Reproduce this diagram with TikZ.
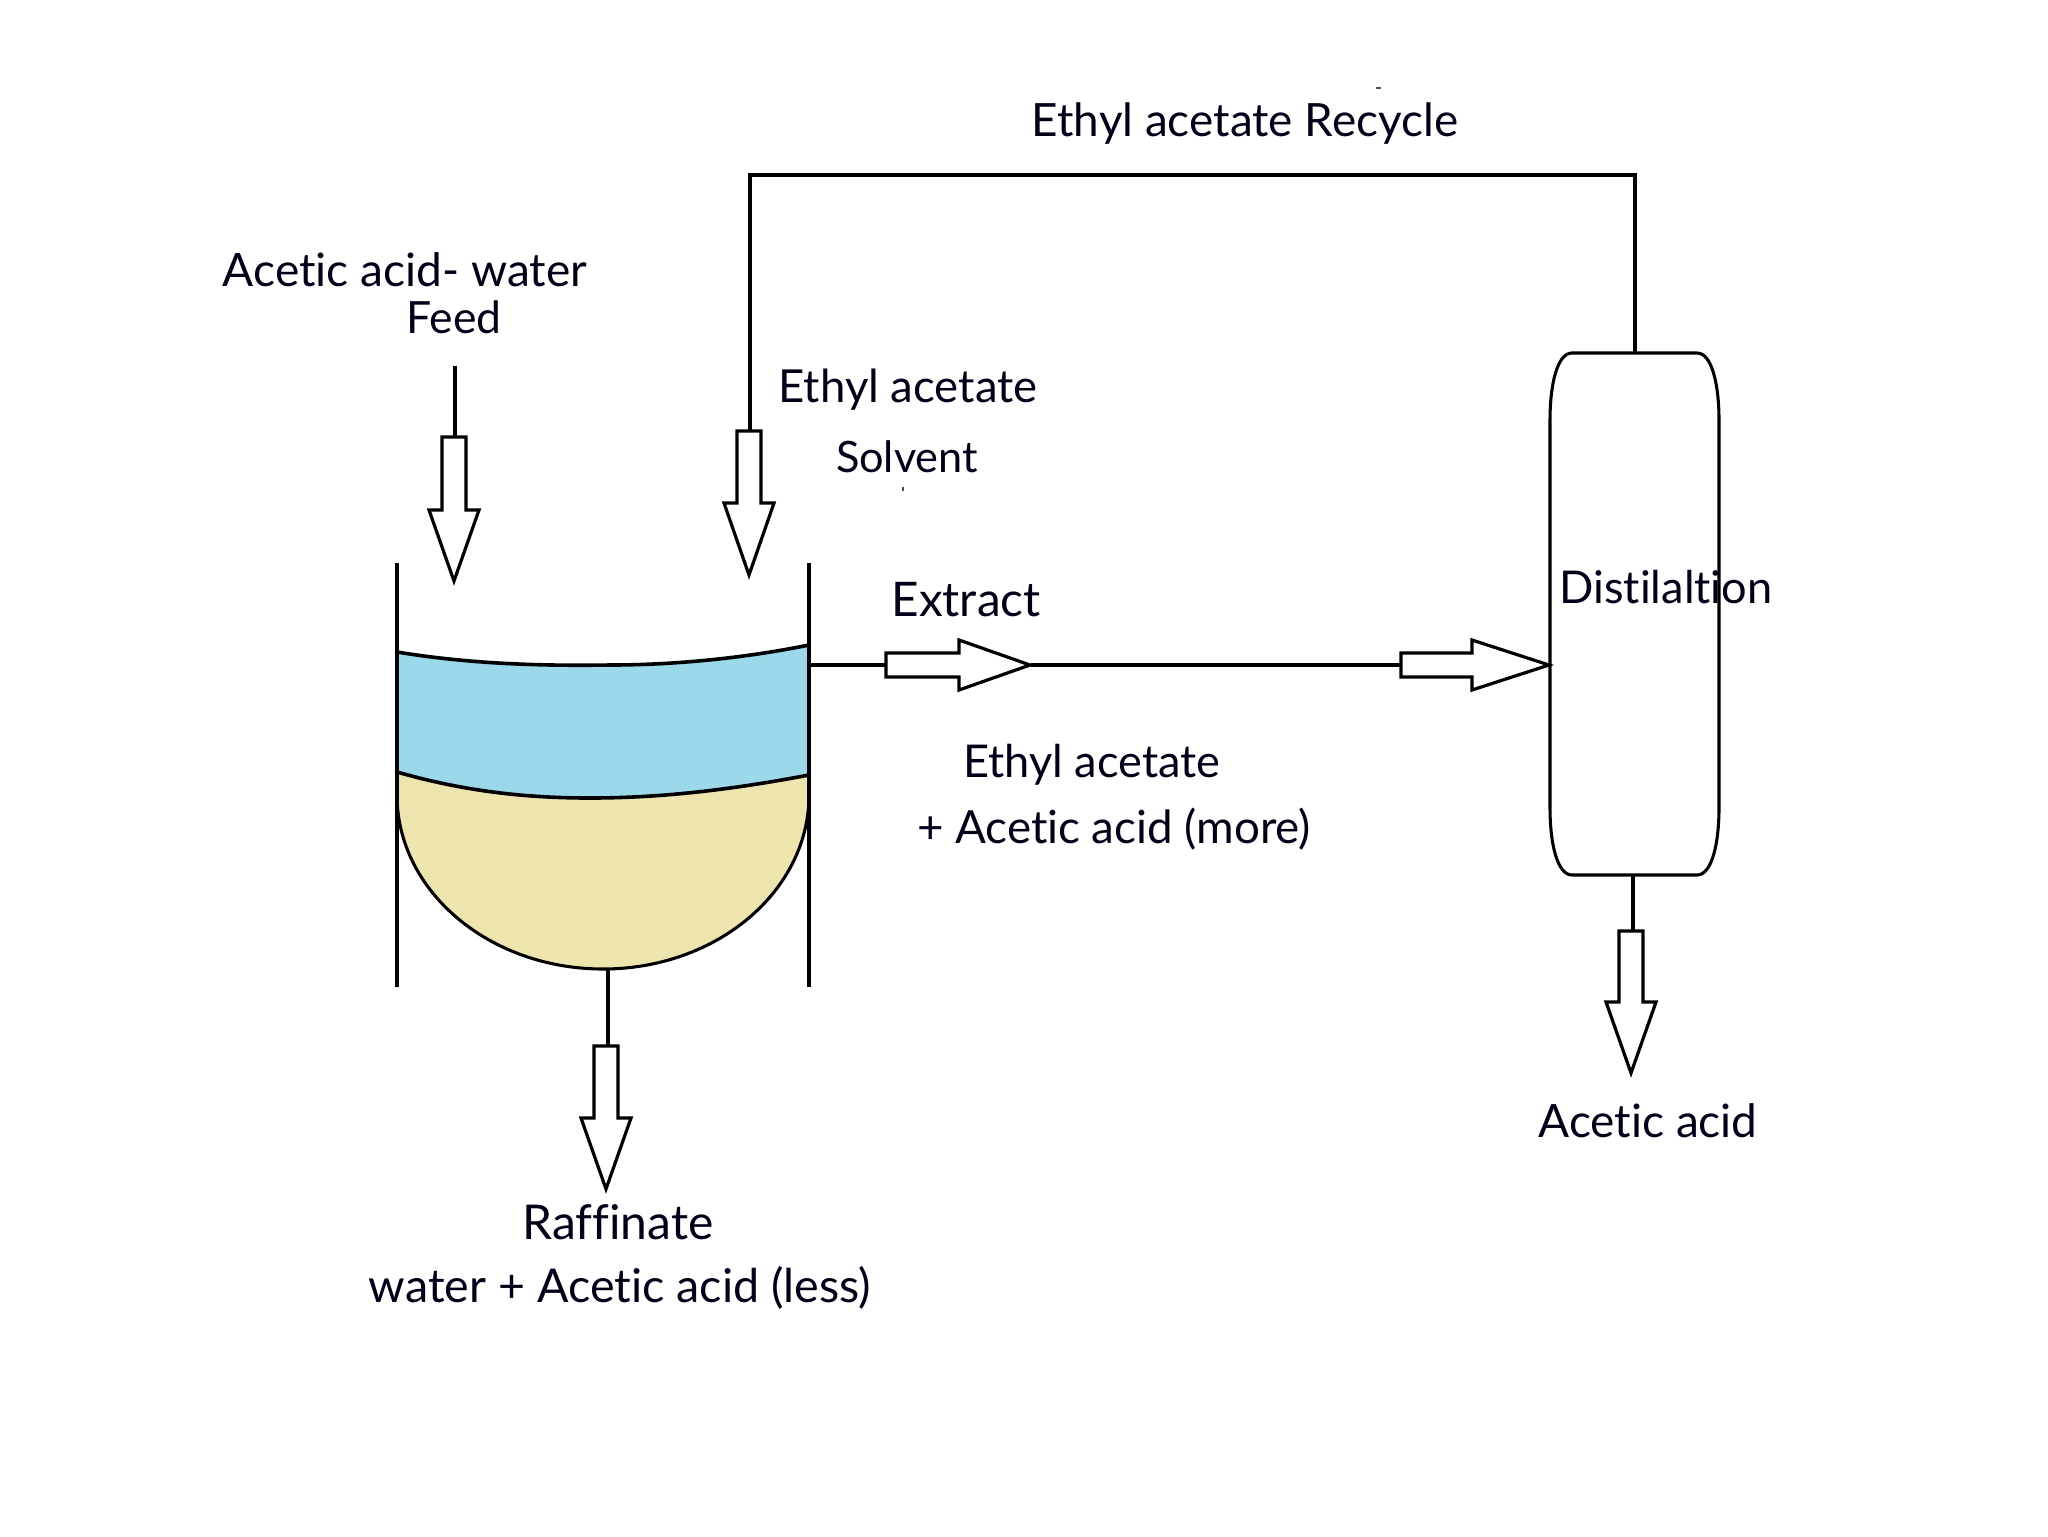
\documentclass[tikz,border=0pt]{standalone}
\usepackage{fontspec}
\setmainfont[Ligatures=CommonOff]{Lato}
\definecolor{layerblue}{HTML}{9AD8EA}
\definecolor{layercream}{HTML}{EEE4AE}
\tikzset{
  pipe/.style={line width=1.35pt,black,line cap=butt},
  wall/.style={line width=1.15pt,black},
  blockarrow/.style={line width=1.2pt,black,fill=white,line join=miter},
  lbl/.style={inner sep=0pt,text=black!90!blue}
}
\newcommand{\arrowdown}[4]{% centre x, top, shoulder, tip
  \draw[blockarrow] (#1-12,#2) -- (#1+12,#2) -- (#1+12,#3) -- (#1+25,#3) -- (#1,#4) -- (#1-25,#3) -- (#1-12,#3) -- cycle;}
\newcommand{\arrowright}[4]{% centre y, left, shoulder, tip
  \draw[blockarrow] (#2,#1-12) -- (#3,#1-12) -- (#3,#1-25) -- (#4,#1) -- (#3,#1+25) -- (#3,#1+12) -- (#2,#1+12) -- cycle;}
\newcommand{\lab}[5]{\node[lbl] (#1) at (#2,#3) {\resizebox{#4\dimexpr0.375pt\relax}{!}{#5}};}
\begin{document}
\begin{tikzpicture}[x=0.375pt,y=-0.375pt]
\useasboundingbox (0,0) rectangle (2048,1536);
% layers
\fill[layerblue] (397,652) .. controls (470,664) and (540,666) .. (610,665) .. controls (680,665) and (750,657) .. (809,645) -- (809,775) .. controls (730,790) and (660,798) .. (590,798) .. controls (520,798) and (460,790) .. (397,772) -- cycle;
\fill[layercream] (397,772) .. controls (460,790) and (520,798) .. (590,798) .. controls (660,798) and (730,790) .. (809,775) -- (809,795) .. controls (809,891) and (717,969) .. (603,969) .. controls (489,969) and (397,891) .. (397,795) -- cycle;
\draw[pipe] (397,652) .. controls (470,664) and (540,666) .. (610,665) .. controls (680,665) and (750,657) .. (809,645);
\draw[pipe] (397,772) .. controls (460,790) and (520,798) .. (590,798) .. controls (660,798) and (730,790) .. (809,775);
\draw[wall] (809,795) .. controls (809,891) and (717,969) .. (603,969) .. controls (489,969) and (397,891) .. (397,795);
% vessel walls
\coordinate (wl-top) at (397,563); \coordinate (wl-bot) at (397,987);
\coordinate (wr-top) at (809,563); \coordinate (wr-bot) at (809,987);
\draw[wall] (wl-top) -- (wl-bot);
\draw[wall] (wr-top) -- (wr-bot);
% named stream points
\coordinate (feed-start) at (455,366); \coordinate (feed-arrow) at (455,437);
\coordinate (sol-arrow) at (750,431); \coordinate (rec-a) at (750,175);
\coordinate (rec-b) at (1635,175); \coordinate (col-top) at (1635,353);
\coordinate (ext-start) at (809,665); \coordinate (ext-a1) at (886,665);
\coordinate (ext-a2) at (1031,665); \coordinate (ext-a3) at (1401,665);
\coordinate (col-bot) at (1633,875); \coordinate (bot-arrow) at (1633,931);
\coordinate (ves-bot) at (608,969); \coordinate (raf-arrow) at (608,1046);
% connectors
\draw[pipe] (feed-start) -- (feed-arrow);
\draw[pipe] (sol-arrow) -- (rec-a) -- (rec-b) -- (col-top);
\draw[pipe] (ext-start) -- (ext-a1);
\draw[pipe] (ext-a2) -- (ext-a3);
\draw[pipe] (col-bot) -- (bot-arrow);
\draw[pipe] (ves-bot) -- (raf-arrow);
% column
\draw[wall] (1572,353) -- (1697,353) .. controls (1712,353) and (1719,385) .. (1719,420) -- (1719,808) .. controls (1719,843) and (1712,875) .. (1697,875) -- (1572,875) .. controls (1557,875) and (1550,843) .. (1550,808) -- (1550,420) .. controls (1550,385) and (1557,353) .. (1572,353) -- cycle;
% block arrows
\arrowdown{454}{437}{510}{581}
\arrowdown{749}{431}{503}{575}
\arrowdown{606}{1046}{1118}{1189}
\arrowdown{1631}{931}{1002}{1073}
\arrowright{665}{886}{959}{1030}
\arrowright{665}{1401}{1472}{1549}
% labels
\lab{t1}{1245}{124}{426}{Ethyl acetate Recycle}
\lab{t2}{405}{270}{364}{Acetic acid- water}
\lab{t3}{454}{317}{95}{Feed}
\lab{t4}{908}{390}{259}{Ethyl acetate}
\lab{t5}{907}{457}{142}{Solvent}
\lab{t6}{966}{600}{149}{Extract}
\lab{t7}{1092}{765}{257}{Ethyl acetate}
\lab{t8}{1114}{829}{394}{+ Acetic acid (more)}
\lab{t9}{1666}{587}{213}{Distilaltion}
\lab{t10}{1648}{1121}{219}{Acetic acid}
\lab{t11}{618}{1222}{191}{Raffinate}
\lab{t12}{620}{1288}{502}{water + Acetic acid (less)}
% specks
\fill[black!70] (1376,87) rectangle (1381,89);
\fill[black!70] (902,487) rectangle (904,491);
\end{tikzpicture}
\end{document}
